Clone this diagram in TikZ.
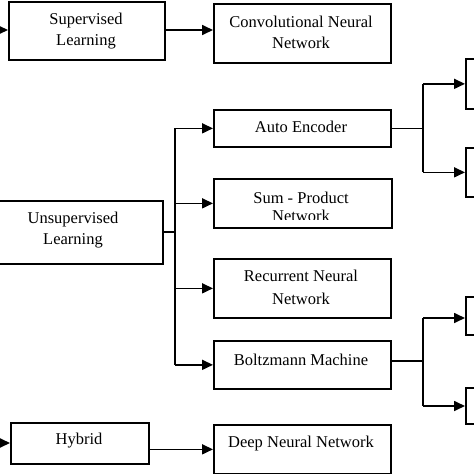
\documentclass[tikz,border=0pt]{standalone}
\usepackage{fontspec}
\setmainfont{Liberation Serif}
\usetikzlibrary{arrows.meta,calc}
\begin{document}
\begin{tikzpicture}[x=1pt,y=-1pt,
  box/.style={draw=black,line width=1.7pt,fill=white,rectangle,inner sep=0pt,anchor=north west},
  txt/.style={inner sep=0pt,align=center,font=\fontsize{16.5}{21}\selectfont},
  conn/.style={line width=1.7pt},
  arr/.style={line width=1.7pt,-{Triangle[length=11pt,width=10pt]}}]
\useasboundingbox (0,0) rectangle (474,474);
\clip (0,0) rectangle (474,474);
\fill[white] (0,0) rectangle (474,474);
% boxes
\node[box,minimum width=156pt,minimum height=58pt] (sup) at (8,1) {};
\node[box,minimum width=177pt,minimum height=59pt] (cnn) at (213,3) {};
\node[box,minimum width=177pt,minimum height=37pt] (ae) at (213,109) {};
\node[box,minimum width=178pt,minimum height=49pt] (spn) at (213,178) {};
\node[box,minimum width=177pt,minimum height=59pt] (rnn) at (213,258) {};
\node[box,minimum width=177pt,minimum height=48pt] (bm) at (213,340) {};
\node[box,minimum width=177pt,minimum height=49pt] (dnn) at (213,424) {};
\node[box,minimum width=138pt,minimum height=41pt] (hyb) at (10,422) {};
\node[box,minimum width=178pt,minimum height=63pt] (uns) at (-16,200) {};
\node[box,minimum width=60pt,minimum height=50pt] (r1) at (465,58) {};
\node[box,minimum width=60pt,minimum height=49pt] (r2) at (465,147) {};
\node[box,minimum width=60pt,minimum height=38pt] (r3) at (465,296) {};
\node[box,minimum width=60pt,minimum height=36pt] (r4) at (465,387) {};
% texts
\node[txt] (tsup) at (86,31) {Supervised\\Learning};
\node[txt] (tcnn) at (301,32) {Convolutional Neural\\Network};
\node[txt] (tae) at (301,127) {Auto Encoder};
\begin{scope}
\clip (213,178) rectangle (391,219);
\node[txt,font=\fontsize{16.5}{18}\selectfont] (tspn) at (301,207) {Sum - Product\\Network};
\end{scope}
\node[txt,font=\fontsize{16.5}{23}\selectfont] (trnn) at (301,287) {Recurrent Neural\\Network};
\node[txt] (tbm) at (301,360) {Boltzmann Machine};
\node[txt] (tdnn) at (301,444) {Deep Neural Network};
\node[txt] (thyb) at (79,441) {Hybrid};
\node[txt] (tuns) at (73,230) {Unsupervised\\Learning};
% connectors
\coordinate (in1) at (-20,30);
\coordinate (in2) at (-20,443);
\draw[arr] (in1) -- (in1 -| sup.west);
\draw[arr] (in2) -- (in2 -| hyb.west);
\draw[arr] (sup.east |- in1) -- (in1 -| cnn.west);
\draw[arr] (hyb.east |- dnn.west) -- (dnn.west);
% unsupervised trunk
\coordinate (tr) at (175,232);
\draw[conn] (uns.east |- tr) -- (tr);
\draw[conn] (tr |- ae.west) -- (tr |- bm.west);
\draw[arr] (tr |- ae.west) -- (ae.west);
\draw[arr] (tr |- spn.west) -- (spn.west);
\draw[arr] (tr |- rnn.west) -- (rnn.west);
\draw[arr] (tr |- bm.west) -- (bm.west);
% auto encoder split
\coordinate (j1) at (423,127.5);
\draw[conn] (ae.east) -- (ae.east -| j1);
\draw[conn] (j1 |- r1.west) -- (j1 |- r2.west);
\draw[arr] (j1 |- r1.west) -- (r1.west);
\draw[arr] (j1 |- r2.west) -- (r2.west);
% boltzmann split
\coordinate (j2) at (423,361);
\draw[conn] (bm.east |- j2) -- (j2);
\coordinate (a3) at (423,318);
\coordinate (a4) at (423,406);
\draw[conn] (a3) -- (a4);
\draw[arr] (a3) -- (a3 -| r3.west);
\draw[arr] (a4) -- (a4 -| r4.west);
\end{tikzpicture}
\end{document}
